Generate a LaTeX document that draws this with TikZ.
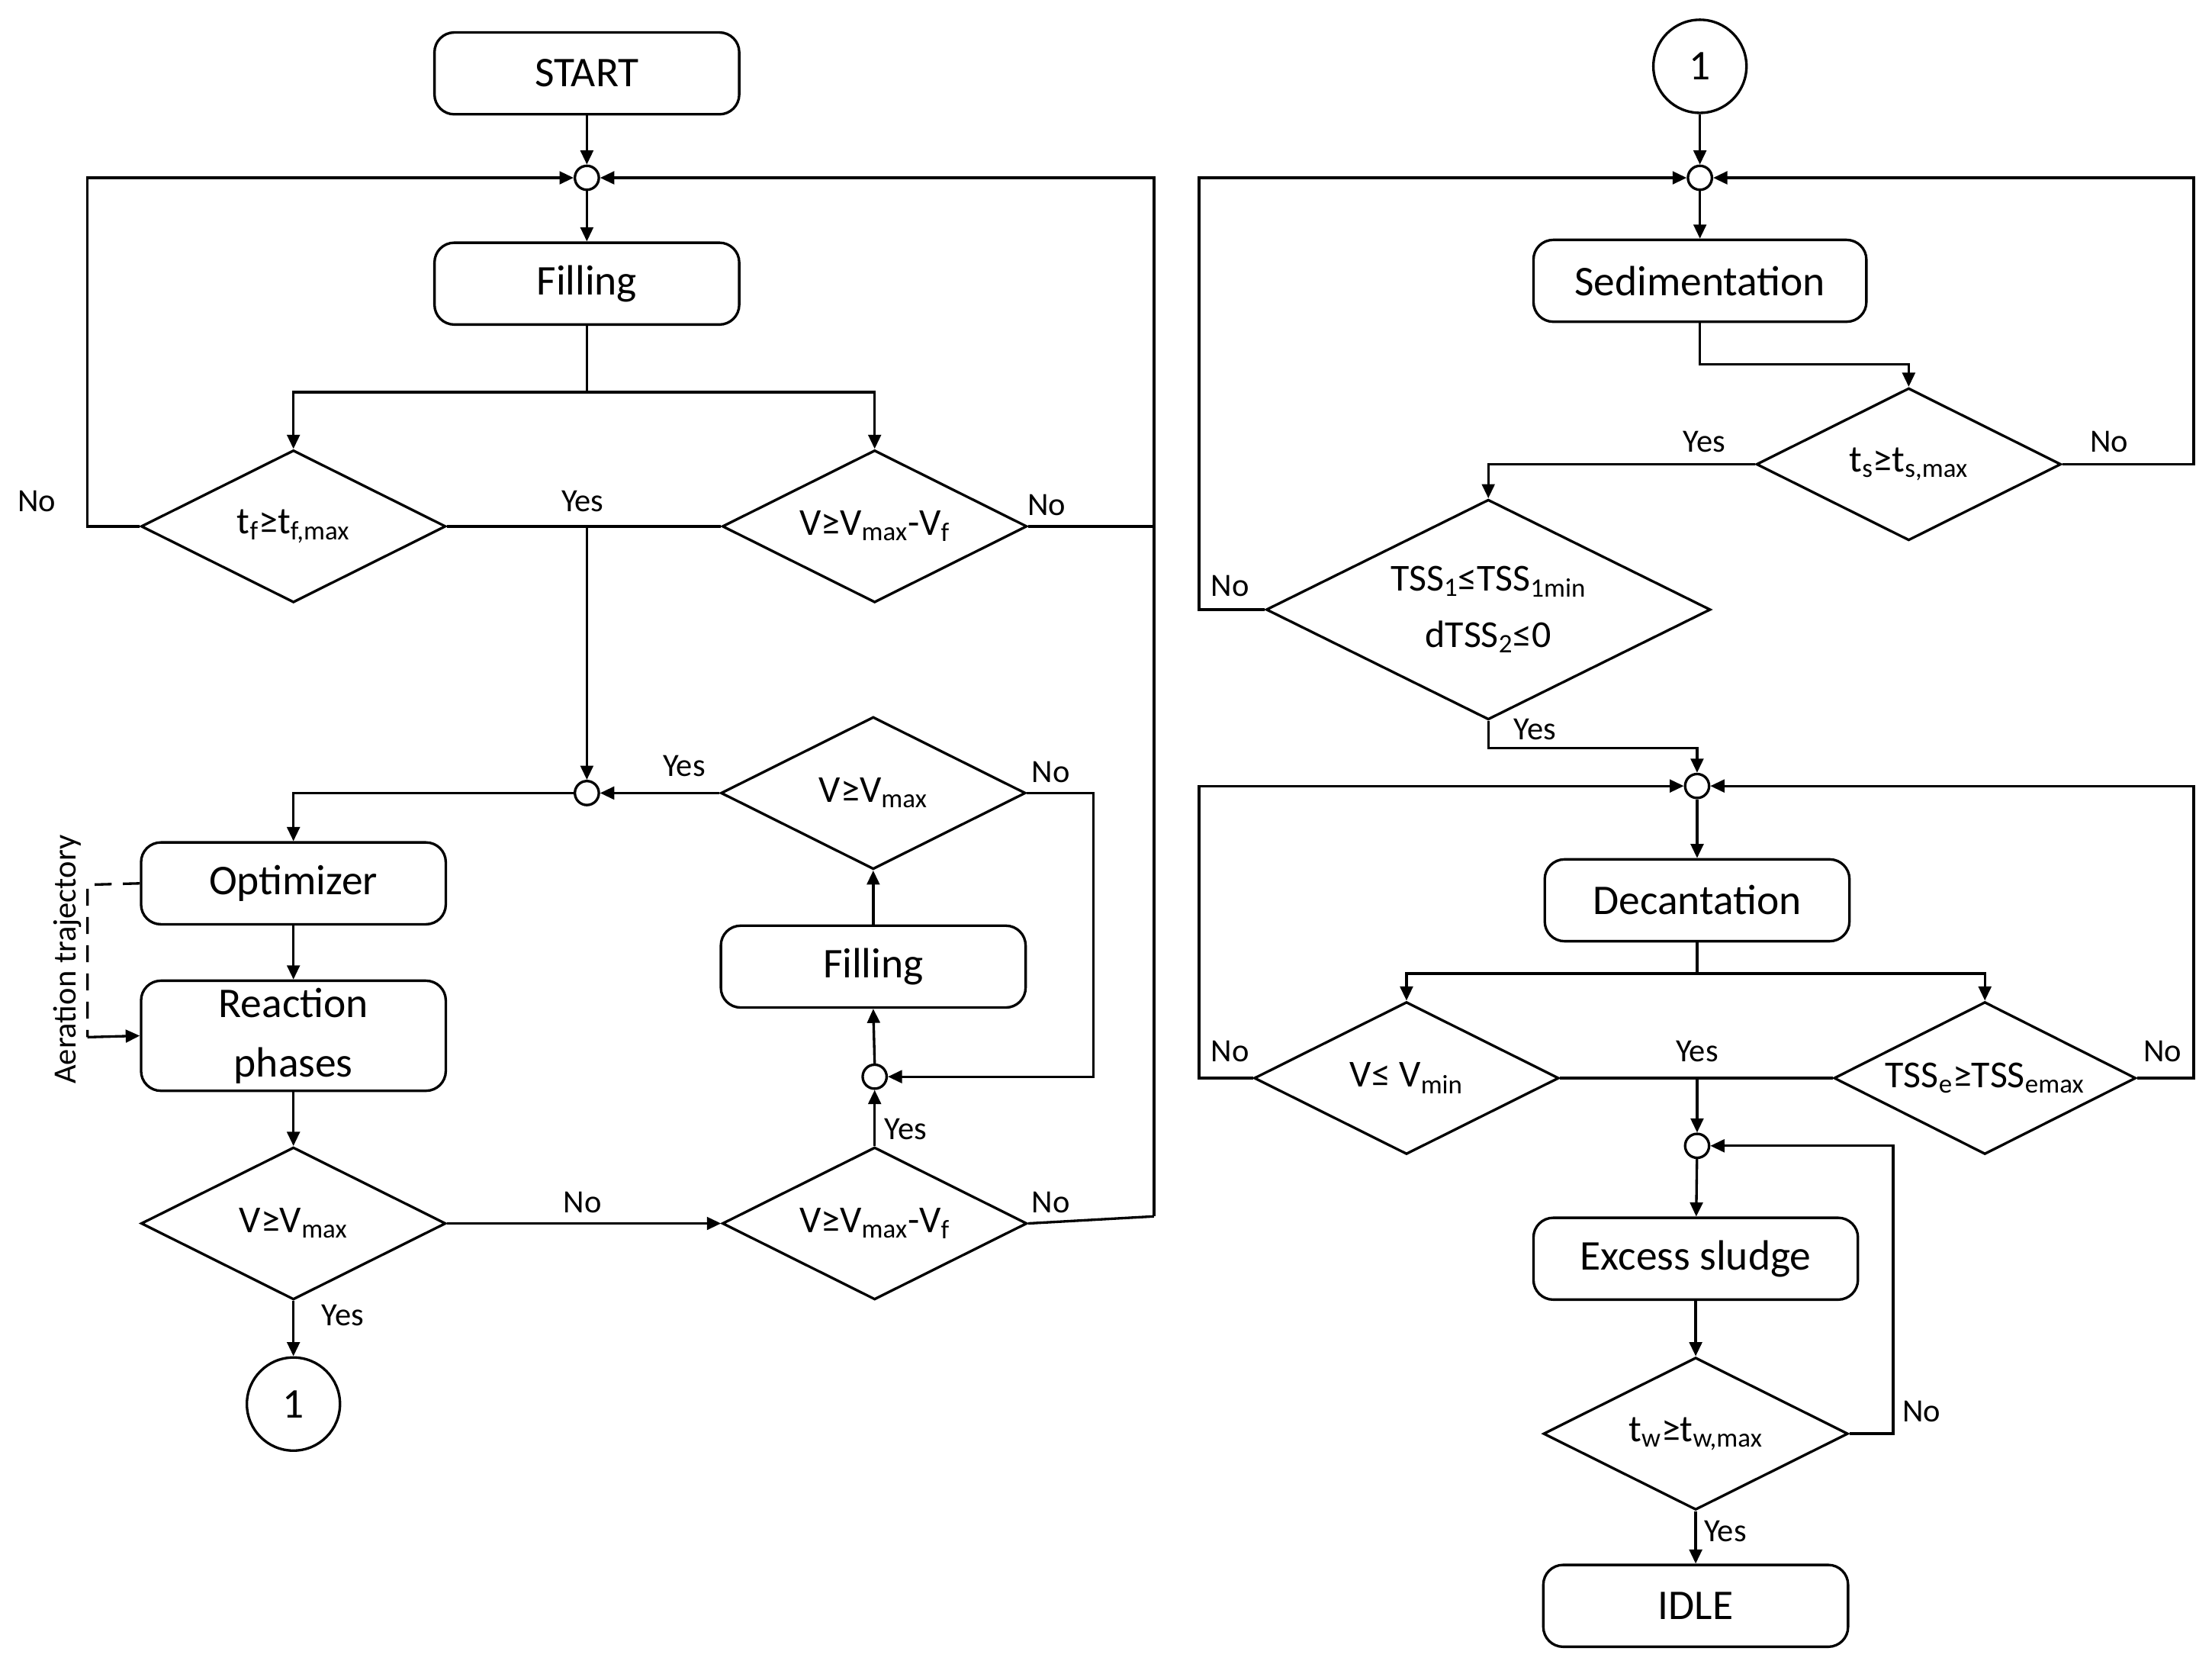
\documentclass[tikz,border=0pt]{standalone}
\usepackage{fontspec}
\setmainfont{Carlito}
\usetikzlibrary{shapes.geometric,arrows.meta}
\begin{document}
\begin{tikzpicture}[x=1pt,y=-1pt,
  line width=1.8pt,
  >={Triangle[length=10pt,width=9pt]},
  box/.style={draw,rounded corners=14pt,minimum width=216pt,minimum height=58pt,font=\fontsize{30}{34}\selectfont,inner sep=0pt},
  dia/.style={draw,diamond,aspect=2,minimum width=216pt,minimum height=108pt,inner sep=0pt,font=\fontsize{27}{31}\selectfont},
  jn/.style={draw,circle,minimum size=17pt,inner sep=0pt},
  con/.style={draw,circle,minimum size=66pt,inner sep=0pt,font=\fontsize{30}{34}\selectfont},
  lab/.style={font=\fontsize{23}{26}\selectfont,inner sep=0pt}]
\useasboundingbox (0,0) rectangle (1568,1188);
% ---------- left ----------
\node[box] (start) at (416,52) {START};
\node[jn] (j1) at (416,126) {};
\node[box] (fill1) at (416,201) {Filling};
\node[dia] (d1) at (208,373) {t\textsubscript{f}≥t\textsubscript{f,max}};
\node[dia] (d2) at (620,373) {V≥V\textsubscript{max}-V\textsubscript{f}};
\node[jn] (j2) at (416,562) {};
\node[box] (opt) at (208,626) {Optimizer};
\node[box,minimum height=78pt,align=center,font=\fontsize{30}{42}\selectfont] (reac) at (208,734) {Reaction\\phases};
\node[dia] (d4) at (208,867) {V≥V\textsubscript{max}};
\node[dia] (d5) at (620,867) {V≥V\textsubscript{max}-V\textsubscript{f}};
\node[jn] (j3) at (620,763) {};
\node[box] (fill2) at (619,685) {Filling};
\node[dia] (d3) at (619,562) {V≥V\textsubscript{max}};
\node[con] (c1) at (208,995) {1};
\node[lab,rotate=90] (aer) at (48,680) {Aeration trajectory};

\draw[->] (start) -- (j1);
\draw[->] (j1) -- (fill1);
\draw (fill1.south) -- (416,278) coordinate (s1);
\draw[->] (s1) -| (d1.north);
\draw[->] (s1) -| (d2.north);
\draw[->] (d1.west) -- (62,373) |- (j1.west);
\draw (d1.east) -- (d2.west);
\draw[->] (416,373) coordinate (m1) -- (j2.north);
\draw (d2.east) -- (818,373) coordinate (r1);
\draw[->] (818,862) -- (818,126) -- (j1.east);
\draw[->] (d3.west) -- (j2.east);
\draw[->] (j2.west) -| (opt.north);
\draw[->] (opt) -- (reac);
\draw[dash pattern=on 12pt off 8pt] (opt.west) -- (62,627) -- (62,735);
\draw[->] (62,735) -- (reac.west);
\draw[->] (reac) -- (d4);
\draw[->] (d4.east) -- (d5.west);
\draw (d5.east) -- (818,862);
\draw[->] (d5.north) -- (j3.south);
\draw[->] (j3.north) -- (fill2.south);
\draw[->] (fill2.north) -- (d3.south);
\draw[->] (d3.east) -- (775,562) |- (j3.east);
\draw[->] (d4.south) -- (c1.north);
\node[lab] at (26,355) {No};
\node[lab] at (413,355) {Yes};
\node[lab] at (742,358) {No};
\node[lab] at (485,543) {Yes};
\node[lab] at (745,547) {No};
\node[lab] at (642,800) {Yes};
\node[lab] at (413,852) {No};
\node[lab] at (745,852) {No};
\node[lab] at (243,932) {Yes};
% ---------- right ----------
\node[con] (c2) at (1205,47) {1};
\node[jn] (j4) at (1205,126) {};
\node[box,minimum width=236pt] (sed) at (1205,199) {Sedimentation};
\node[dia] (d6) at (1353,329) {t\textsubscript{s}≥t\textsubscript{s,max}};
\node[dia,minimum width=315pt,minimum height=156pt,align=center,font=\fontsize{27}{40}\selectfont] (d7) at (1055,432) {TSS\textsubscript{1}≤TSS\textsubscript{1min}\\dTSS\textsubscript{2}≤0};
\node[jn] (j5) at (1203,557) {};
\node[box] (dec) at (1203,638) {Decantation};
\node[dia] (d8) at (997,764) {V≤ V\textsubscript{min}};
\node[dia,minimum width=214pt] (d9) at (1407,764) {TSS\textsubscript{e}≥TSS\textsubscript{emax}};
\node[jn] (j6) at (1203,812) {};
\node[box,minimum width=230pt] (exc) at (1202,892) {Excess sludge};
\node[dia] (d10) at (1202,1016) {t\textsubscript{w}≥t\textsubscript{w,max}};
\node[box] (idle) at (1202,1138) {IDLE};

\draw[->] (c2) -- (j4);
\draw[->] (j4) -- (sed);
\draw[->] (sed.south) -- (1205,258) -| (d6.north);
\draw[->] (d6.east) -- (1555,329) |- (j4.east);
\draw[->] (d6.west) -| (d7.north);
\draw[->] (d7.west) -- (850,432) |- (j4.west);
\draw[->] (d7.south) -- (1055,530) -| (j5.north);
\draw[->] (j5) -- (dec);
\draw (dec.south) -- (1203,690) coordinate (s2);
\draw[->] (s2) -| (d8.north);
\draw[->] (s2) -| (d9.north);
\draw[->] (d8.west) -- (850,764) |- (j5.west);
\draw[->] (d9.east) -- (1555,764) |- (j5.east);
\draw (d8.east) -- (d9.west);
\draw[->] (1203,764) -- (j6.north);
\draw[->] (j6) -- (exc);
\draw[->] (exc) -- (d10);
\draw[->] (d10.east) -- (1342,1016) |- (j6.east);
\draw[->] (d10) -- (idle);
\node[lab] at (1208,313) {Yes};
\node[lab] at (1495,313) {No};
\node[lab] at (872,415) {No};
\node[lab] at (1088,517) {Yes};
\node[lab] at (872,745) {No};
\node[lab] at (1203,745) {Yes};
\node[lab] at (1533,745) {No};
\node[lab] at (1362,1000) {No};
\node[lab] at (1223,1085) {Yes};
\end{tikzpicture}
\end{document}
